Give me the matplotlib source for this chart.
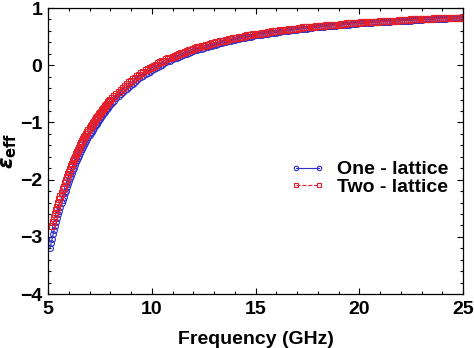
import matplotlib
matplotlib.use('Agg')
import matplotlib.pyplot as plt
from matplotlib.ticker import MultipleLocator

# frequency points (GHz), denser at the low end
freq = [5.10, 5.15, 5.20, 5.25, 5.30, 5.35, 5.40, 5.45, 5.50, 5.55,
        5.60, 5.65, 5.70, 5.75, 5.80, 5.85, 5.90, 5.95, 6.00, 6.05,
        6.10, 6.15, 6.20, 6.25, 6.30, 6.35, 6.40, 6.45, 6.50, 6.55,
        6.60, 6.65, 6.70, 6.75, 6.80, 6.85, 6.90, 6.95, 7.00, 7.05,
        7.10, 7.15, 7.20, 7.25, 7.30, 7.35, 7.40, 7.45, 7.50, 7.55,
        7.60, 7.65, 7.70, 7.75, 7.80, 7.85, 7.90, 7.95, 8.00,
        8.1, 8.2, 8.3, 8.4, 8.5, 8.6, 8.7, 8.8, 8.9, 9.0,
        9.1, 9.2, 9.3, 9.4, 9.5, 9.6, 9.7, 9.8, 9.9, 10.0,
        10.1, 10.2, 10.3, 10.4, 10.5, 10.6, 10.7, 10.8, 10.9, 11.0,
        11.1, 11.2, 11.3, 11.4, 11.5, 11.6, 11.7, 11.8, 11.9, 12.0,
        12.1, 12.2, 12.3, 12.4, 12.5, 12.6, 12.7, 12.8, 12.9, 13.0,
        13.1, 13.2, 13.3, 13.4, 13.5, 13.6, 13.7, 13.8, 13.9, 14.0,
        14.1, 14.2, 14.3, 14.4, 14.5, 14.6, 14.7, 14.8, 14.9, 15.0,
        15.1, 15.2, 15.3, 15.4, 15.5, 15.6, 15.7, 15.8, 15.9, 16.0,
        16.1, 16.2, 16.3, 16.4, 16.5, 16.6, 16.7, 16.8, 16.9, 17.0,
        17.1, 17.2, 17.3, 17.4, 17.5, 17.6, 17.7, 17.8, 17.9, 18.0,
        18.1, 18.2, 18.3, 18.4, 18.5, 18.6, 18.7, 18.8, 18.9, 19.0,
        19.1, 19.2, 19.3, 19.4, 19.5, 19.6, 19.7, 19.8, 19.9, 20.0,
        20.1, 20.2, 20.3, 20.4, 20.5, 20.6, 20.7, 20.8, 20.9, 21.0,
        21.1, 21.2, 21.3, 21.4, 21.5, 21.6, 21.7, 21.8, 21.9, 22.0,
        22.1, 22.2, 22.3, 22.4, 22.5, 22.6, 22.7, 22.8, 22.9, 23.0,
        23.1, 23.2, 23.3, 23.4, 23.5, 23.6, 23.7, 23.8, 23.9, 24.0,
        24.1, 24.2, 24.3, 24.4, 24.5, 24.6, 24.7, 24.8, 24.9, 25.0]

# one - lattice, starts at 5.10 GHz
eps_one = [-3.19, -3.11, -3.03, -2.95, -2.88, -2.81, -2.74, -2.67, -2.60, -2.54,
           -2.48, -2.41, -2.35, -2.30, -2.24, -2.19, -2.13, -2.08, -2.03, -1.98,
           -1.93, -1.88, -1.84, -1.79, -1.75, -1.70, -1.66, -1.62, -1.58, -1.54,
           -1.50, -1.46, -1.43, -1.39, -1.36, -1.32, -1.29, -1.26, -1.22, -1.19,
           -1.16, -1.13, -1.10, -1.07, -1.05, -1.02, -0.99, -0.96, -0.94, -0.91,
           -0.89, -0.86, -0.84, -0.81, -0.79, -0.77, -0.75, -0.72, -0.70,
           -0.66, -0.62, -0.58, -0.54, -0.51, -0.47, -0.44, -0.41, -0.38, -0.35,
           -0.32, -0.29, -0.26, -0.23, -0.21, -0.18, -0.16, -0.13, -0.11, -0.09,
           -0.07, -0.05, -0.03, -0.01, 0.01, 0.03, 0.05, 0.07, 0.08, 0.10,
           0.12, 0.13, 0.15, 0.16, 0.18, 0.19, 0.20, 0.22, 0.23, 0.24,
           0.26, 0.27, 0.28, 0.29, 0.30, 0.31, 0.32, 0.33, 0.34, 0.36,
           0.36, 0.37, 0.38, 0.39, 0.40, 0.41, 0.42, 0.43, 0.44, 0.44,
           0.45, 0.46, 0.47, 0.47, 0.48, 0.49, 0.50, 0.50, 0.51, 0.52,
           0.52, 0.53, 0.53, 0.54, 0.55, 0.55, 0.56, 0.56, 0.57, 0.57,
           0.58, 0.58, 0.59, 0.59, 0.60, 0.60, 0.61, 0.61, 0.62, 0.62,
           0.63, 0.63, 0.64, 0.64, 0.64, 0.65, 0.65, 0.66, 0.66, 0.66,
           0.67, 0.67, 0.67, 0.68, 0.68, 0.68, 0.69, 0.69, 0.69, 0.70,
           0.70, 0.70, 0.71, 0.71, 0.71, 0.72, 0.72, 0.72, 0.72, 0.73,
           0.73, 0.73, 0.74, 0.74, 0.74, 0.74, 0.75, 0.75, 0.75, 0.75,
           0.76, 0.76, 0.76, 0.76, 0.76, 0.77, 0.77, 0.77, 0.77, 0.77,
           0.78, 0.78, 0.78, 0.78, 0.78, 0.79, 0.79, 0.79, 0.79, 0.79,
           0.80, 0.80, 0.80, 0.80, 0.80, 0.80, 0.81, 0.81, 0.81, 0.81,
           0.81, 0.81, 0.82, 0.82, 0.82, 0.82, 0.82, 0.82, 0.82, 0.83]

# two - lattice, starts at 5.20 GHz (freq[2:])
eps_two = [-2.81, -2.74, -2.67, -2.60, -2.53, -2.47, -2.40, -2.34, -2.28, -2.23,
           -2.17, -2.12, -2.06, -2.01, -1.96, -1.91, -1.86, -1.81, -1.77, -1.72,
           -1.68, -1.64, -1.60, -1.55, -1.51, -1.48, -1.44, -1.40, -1.36, -1.33,
           -1.29, -1.26, -1.23, -1.20, -1.16, -1.13, -1.10, -1.07, -1.04, -1.01,
           -0.99, -0.96, -0.93, -0.91, -0.88, -0.86, -0.83, -0.81, -0.78, -0.76,
           -0.74, -0.71, -0.69, -0.67, -0.65, -0.63, -0.61,
           -0.57, -0.53, -0.50, -0.46, -0.43, -0.39, -0.36, -0.33, -0.30, -0.27,
           -0.24, -0.22, -0.19, -0.17, -0.14, -0.12, -0.09, -0.07, -0.05, -0.03,
           -0.01, 0.01, 0.03, 0.05, 0.07, 0.08, 0.10, 0.12, 0.13, 0.15,
           0.16, 0.18, 0.19, 0.21, 0.22, 0.23, 0.25, 0.26, 0.27, 0.28,
           0.30, 0.31, 0.32, 0.33, 0.34, 0.35, 0.36, 0.37, 0.38, 0.39,
           0.40, 0.41, 0.42, 0.43, 0.43, 0.44, 0.45, 0.46, 0.47, 0.47,
           0.48, 0.49, 0.50, 0.50, 0.51, 0.52, 0.52, 0.53, 0.54, 0.54,
           0.55, 0.55, 0.56, 0.57, 0.57, 0.58, 0.58, 0.59, 0.59, 0.60,
           0.60, 0.61, 0.61, 0.62, 0.62, 0.63, 0.63, 0.64, 0.64, 0.64,
           0.65, 0.65, 0.66, 0.66, 0.66, 0.67, 0.67, 0.67, 0.68, 0.68,
           0.69, 0.69, 0.69, 0.70, 0.70, 0.70, 0.71, 0.71, 0.71, 0.71,
           0.72, 0.72, 0.72, 0.73, 0.73, 0.73, 0.73, 0.74, 0.74, 0.74,
           0.75, 0.75, 0.75, 0.75, 0.75, 0.76, 0.76, 0.76, 0.76, 0.77,
           0.77, 0.77, 0.77, 0.78, 0.78, 0.78, 0.78, 0.78, 0.79, 0.79,
           0.79, 0.79, 0.79, 0.79, 0.80, 0.80, 0.80, 0.80, 0.80, 0.81,
           0.81, 0.81, 0.81, 0.81, 0.81, 0.82, 0.82, 0.82, 0.82, 0.82,
           0.82, 0.82, 0.83, 0.83, 0.83, 0.83, 0.83, 0.83, 0.83, 0.84]

labels = ['One - lattice', 'Two - lattice']

plt.rcParams['font.family'] = ['Liberation Sans', 'DejaVu Sans']
plt.rcParams['font.weight'] = 'bold'
plt.rcParams['font.size'] = 14
plt.rcParams['mathtext.fontset'] = 'dejavusans'

fig = plt.figure(figsize=(4.74, 3.48), dpi=100)
ax = fig.add_axes([0.1013, 0.155, 0.8755, 0.822])

ax.plot(freq, eps_one, '-', color='#2f2fc8', marker='o', ms=4.2, mfc='none',
        mew=0.8, lw=0.8, label=labels[0])
ax.plot(freq[2:], eps_two, '--', color='#e4202c', marker='s', ms=4.0, mfc='none',
        mew=0.8, lw=0.8, label=labels[1])

ax.set_xlim(5, 25)
ax.set_ylim(-4, 1)
ax.xaxis.set_major_locator(MultipleLocator(5))
ax.xaxis.set_minor_locator(MultipleLocator(1))
ax.yaxis.set_major_locator(MultipleLocator(1))
ax.yaxis.set_minor_locator(MultipleLocator(0.2))
ax.tick_params(which='both', direction='in', top=True, right=True, width=0.8)
ax.tick_params(which='major', length=4.5)
ax.tick_params(which='minor', length=2.5)
ax.tick_params(axis='x', pad=5)
ax.tick_params(axis='y', pad=4)
for s in ax.spines.values():
    s.set_linewidth(0.9)

ax.set_xlabel('Frequency (GHz)', fontweight='bold', labelpad=9)
ax.set_ylabel(r'$\varepsilon_{\mathrm{eff}}$', fontsize=15, labelpad=1)

ax.legend(loc='center left', bbox_to_anchor=(0.583, 0.404), frameon=False,
          borderpad=0, borderaxespad=0, handlelength=1.8, handletextpad=0.6,
          labelspacing=0.0, numpoints=2, markerscale=0.75)

fig.savefig('out.png')
